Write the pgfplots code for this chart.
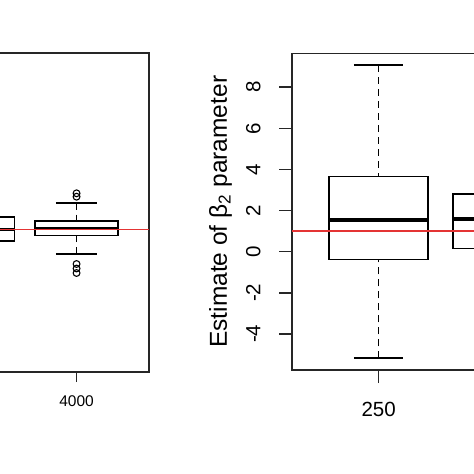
\documentclass[border=0pt]{standalone}
\usepackage{pgfplots}
\pgfplotsset{compat=1.18}
\usepgfplotslibrary{statistics}
\usepackage{fontspec}
\setmainfont{Liberation Sans}

\definecolor{rline}{RGB}{228,52,52}

% R-style boxplot: dashed stem, solid cap, thick median
\pgfplotsset{
  rbox/.style={
    black, solid, line width=1.6pt,
    boxplot/draw direction=y,
    boxplot/box extend=0.8,
    boxplot/whisker extend=0.4,
    boxplot/every median/.style={line width=#1},
    boxplot/draw/lower whisker/.code={%
      \draw[line width=1.7pt, dash pattern=on 7pt off 5pt]
        (boxplot box cs:\pgfplotsboxplotvalue{lower whisker},0.5) --
        (boxplot box cs:\pgfplotsboxplotvalue{lower quartile},0.5);
      \draw[line width=1.6pt]
        (boxplot whisker cs:\pgfplotsboxplotvalue{lower whisker},0) --
        (boxplot whisker cs:\pgfplotsboxplotvalue{lower whisker},1);
    },
    boxplot/draw/upper whisker/.code={%
      \draw[line width=1.7pt, dash pattern=on 7pt off 5pt]
        (boxplot box cs:\pgfplotsboxplotvalue{upper whisker},0.5) --
        (boxplot box cs:\pgfplotsboxplotvalue{upper quartile},0.5);
      \draw[line width=1.6pt]
        (boxplot whisker cs:\pgfplotsboxplotvalue{upper whisker},0) --
        (boxplot whisker cs:\pgfplotsboxplotvalue{upper whisker},1);
    },
  },
}

\begin{document}
\begin{tikzpicture}
\useasboundingbox (0pt,0pt) rectangle (474pt,474pt);
\clip (0pt,0pt) rectangle (474pt,474pt);

% left panel (only its right end is in view)
\begin{axis}[
  at={(-409.9pt,102pt)}, anchor=south west,
  x=103.5pt, y=20pt,
  xmin=0.3, xmax=5.7, ymin=-6.135, ymax=9.815,
  axis line style={line width=1.4pt, black!85},
  xtick={5},
  xticklabels={4000},
  ytick=\empty,
  xtick pos=bottom,
  tick align=outside,
  major tick length=10pt,
  xtick style={line width=1.4pt, black!85},
  xticklabel style={font=\fontsize{15.5}{18}\selectfont, anchor=base, inner sep=0pt, yshift=-24pt},
  clip=false,
]
\addplot[rbox=3pt, boxplot prepared={draw position=4,
  lower whisker=-1.3, lower quartile=0.415, median=1.015,
  upper quartile=1.63, upper whisker=3.4}] coordinates {};
\addplot[rbox=3pt, boxplot prepared={draw position=5,
  lower whisker=-0.235, lower quartile=0.70, median=1.05,
  upper quartile=1.43, upper whisker=2.33}] coordinates {};
% outliers of the 4000 box
\addplot[only marks, mark=o, mark size=3.4pt, mark options={line width=1.1pt, black}]
  coordinates {(5,2.80) (5,2.63) (5,-0.735) (5,-0.96) (5,-1.185)};
\addplot[draw=rline, line width=1.6pt, mark=none] coordinates {(3.5,1) (5.7,1)};
\end{axis}

% right panel (beta_2)
\begin{axis}[
  at={(292pt,104pt)}, anchor=south west,
  x=123.75pt, y=20.55pt,
  xmin=0.3, xmax=5.7, ymin=-5.76, ymax=9.64,
  axis line style={line width=1.6pt, black!85},
  xtick={1},
  xticklabels={250},
  ytick={-4,-2,0,2,4,6,8},
  yticklabels={-4,-2,0,2,4,6,8},
  xtick pos=bottom, ytick pos=left,
  tick align=outside,
  major tick length=13pt,
  tick style={line width=1.6pt, black!85},
  xticklabel style={font=\fontsize{20.5}{24}\selectfont, anchor=base, inner sep=0pt, yshift=-33.5pt},
  yticklabel style={font=\fontsize{20.5}{24}\selectfont, xshift=-18.5pt, rotate=90, anchor=base, inner sep=0pt},
  ylabel={Estimate of β\textsubscript{2} parameter},
  ylabel style={font=\fontsize{24.5}{28}\selectfont, at={(axis description cs:-0.0973,0.5)}, anchor=base},
  clip=false,
]
\addplot[rbox=3.8pt, boxplot prepared={draw position=1,
  lower whisker=-5.19, lower quartile=-0.39, median=1.52,
  upper quartile=3.65, upper whisker=9.07}] coordinates {};
\addplot[rbox=3.8pt, boxplot prepared={draw position=2,
  lower whisker=-3.4, lower quartile=0.16, median=1.57,
  upper quartile=2.79, upper whisker=6.6}] coordinates {};
\addplot[draw=rline, line width=1.6pt, mark=none] coordinates {(0.3,1) (5.7,1)};
\end{axis}
\end{tikzpicture}
\end{document}
